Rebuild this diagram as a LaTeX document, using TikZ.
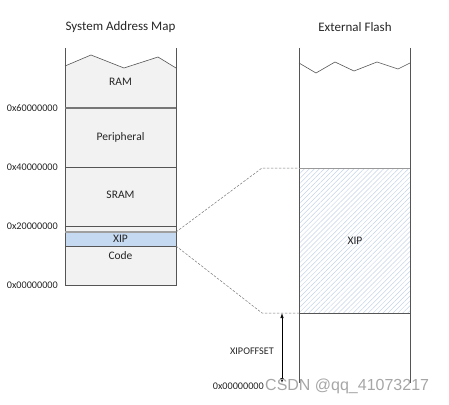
\documentclass[tikz,border=0pt]{standalone}
\usepackage{fontspec}
\setmainfont{Carlito}
\newfontfamily\wmfont{Liberation Sans}
\usetikzlibrary{patterns.meta,arrows.meta}
\definecolor{boxfill}{HTML}{F2F2F2}
\definecolor{edge}{HTML}{555555}
\definecolor{xipblue}{HTML}{C5D9F1}
\definecolor{hatchc}{HTML}{C5D3E6}
\definecolor{txt}{HTML}{262626}
\begin{document}
\begin{tikzpicture}[x=1pt,y=-1pt,
  edgeline/.style={draw=edge,line width=0.8pt},
  sepline/.style={draw=edge!80,line width=1.1pt},
  dashline/.style={draw=edge!80,dashed,dash pattern=on 2.5pt off 1.5pt,line width=0.5pt},
  title/.style={font=\fontsize{13}{15}\selectfont,text=txt},
  lbl/.style={font=\fontsize{11.5}{13}\selectfont,text=txt},
  addr/.style={font=\fontsize{10.2}{12}\selectfont,text=txt,anchor=east,inner sep=0pt}]
\useasboundingbox (0,0) rectangle (449,404);

% ---- left map ----
\fill[boxfill] (65,66) -- (91,55) -- (124,68) -- (158,57) -- (176,68) -- (176,285) -- (65,285) -- cycle;
\fill[xipblue] (65,232) rectangle (176,246);
\draw[edgeline] (65,48) -- (65,285) -- (176,285) -- (176,48);
\draw[edgeline,line width=0.6pt] (65,66) -- (91,55) -- (124,68) -- (158,57) -- (176,68);
\draw[sepline] (65,108) -- (176,108);
\draw[edgeline] (65,167) -- (176,167);
\draw[edgeline] (65,226.5) -- (176,226.5);
\draw[draw=gray!75,line width=1.2pt] (65,232) -- (176,232);
\draw[edgeline] (65,246) -- (176,246);

\node[title] (t1) at (120.5,27) {System Address Map};
\node[lbl] (ram) at (120.5,82) {RAM};
\node[lbl] (per) at (120.5,137) {Peripheral};
\node[lbl] (sram) at (120.5,195) {SRAM};
\node[lbl] (xipl) at (120.5,239) {XIP};
\node[lbl] (code) at (120.5,256) {Code};

\node[addr] (a6) at (58,108) {0x60000000};
\node[addr] (a4) at (58,167) {0x40000000};
\node[addr] (a2) at (58,226.5) {0x20000000};
\node[addr] (a0) at (58,285) {0x00000000};

% ---- right flash ----
\fill[pattern={Lines[angle=45,distance=3.5pt,line width=0.5pt]},pattern color=hatchc] (299,168) rectangle (410,313);
\draw[edgeline] (299,48) -- (299,383);
\draw[edgeline] (410,48) -- (410,383);
\draw[edgeline,line width=0.6pt] (299,63) -- (316,73) -- (335,62) -- (354,71) -- (377,62) -- (398,69) -- (410,63);
\draw[draw=gray!80,line width=1pt] (299,168) -- (410,168);
\draw[edgeline] (299,313) -- (410,313);

\node[title] (t2) at (355,27) {External Flash};
\node[lbl] (xipr) at (355,241) {XIP};

% ---- connectors ----
\coordinate (lt) at (176,232);
\coordinate (lb) at (176,246);
\coordinate (mt) at (262,168);
\coordinate (mb) at (262,313);
\coordinate (rt) at (299,168);
\coordinate (rb) at (299,313);
\draw[dashline] (lt) -- (mt) -- (rt);
\draw[dashline] (lb) -- (mb) -- (rb);

\coordinate (arT) at (282,313);
\coordinate (arB) at (282,383);
\draw[draw=black,line width=0.7pt,{Latex[length=5pt,width=3.5pt]}-{Latex[length=5pt,width=3.5pt]}] (arT) -- (arB);

\node[font=\fontsize{10.2}{12}\selectfont,text=txt] (off) at (252,351) {XIPOFFSET};
\node[addr] (ab) at (264,386) {0x00000000};
\node[font=\wmfont\fontsize{16}{18}\selectfont,text=gray!70,anchor=west,inner sep=0pt] (wm) at (265,386) {CSDN @qq\_41073217};
\end{tikzpicture}
\end{document}
